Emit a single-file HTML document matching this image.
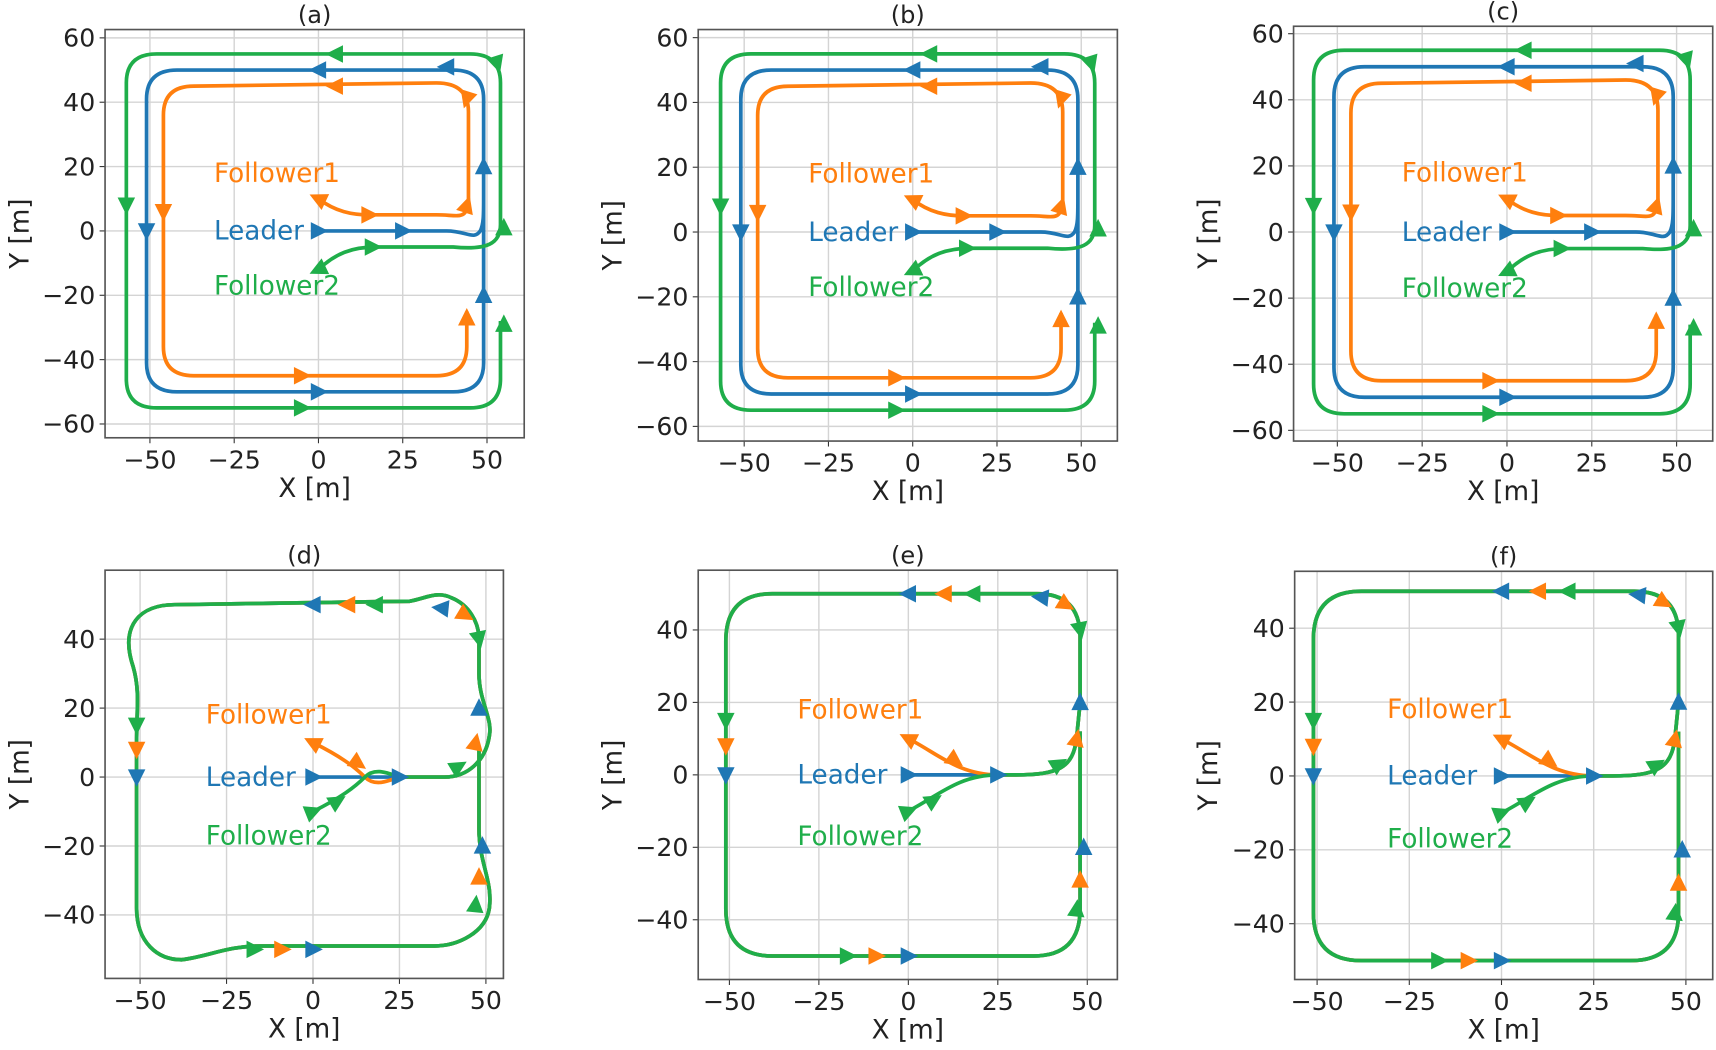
<!DOCTYPE html>
<html><head><meta charset="utf-8"><style>
html,body{margin:0;padding:0;background:#fff;}
svg{display:block;font-family:"DejaVu Sans","Liberation Sans",sans-serif;}
</style></head><body>
<svg id="s" width="1716" height="1050" viewBox="0 0 1568 959.4" preserveAspectRatio="none" xmlns="http://www.w3.org/2000/svg"></svg>
<script>
const B='#1f77b4',O='#ff7f0e',G='#1fae4a';
const top3={
 L:'M0,0 L38,0 C44,0 46,-3 48,0 C49,2 49,5 49,10 L49,41 Q49,50 40,50 L-42,50 Q-51,50 -51,41 L-51,-41 Q-51,-50 -42,-50 L40,-50 Q49,-50 49,-41 L49,18',
 F1:'M0,10 C5,6 10,5 15,5 L35,5 C42,5 44,3 44.5,10 L44.5,37 Q44.5,46 35,46 L-37,45 Q-46,45 -46,36 L-46,-36 Q-46,-45 -37,-45 L35,-45 Q44,-45 44,-36 L44,-25',
 F2:'M0,-12 C5,-7 10,-5 17,-5 L40,-5 C50,-6 54,-4 54,2 L54,46 Q54,55 45,55 L-48,55 Q-57,55 -57,46 L-57,-46 Q-57,-55 -48,-55 L45,-55 Q54,-55 54,-46 L54,-28'};
const topM=[[G,-57,8,0,-1],[B,-51,0,0,-1],[O,-46,6,0,-1],[G,5,55,-1,0],[B,0,50,-1,0],[O,5,45,-1,0],[B,38,51,-1,0],[G,53,52,0.3,-1],[O,44,41,-0.3,-1],
 [O,-5,-45,1,0],[B,0,-50,1,0],[G,-5,-55,1,0],[B,49,20,0,1],[B,49,-20,0,1],[O,44,-27,0,1],[O,44,8,0.3,1],[G,55,1,0,1],[G,55,-29,0,1],
 [O,0,10,-1,0.5],[O,15,5,1,0],[B,0,0,1,0],[B,25,0,1,0],[G,0,-12,-1,-0.5],[G,16,-5,1,0]];
const sq='L48,20 L48,38 Q48,50 36,50 L-38,50 Q-51,50 -51,37 L-51,-37 Q-51,-50 -38,-50 L35,-50 Q48,-50 48,-37 L48,12';
const bot={L:'M0,0 L30,0 C42,0 46,2 47,10 '+sq,F1:'M0,10 C8,6 14,0 25,0 L30,0 C42,0 46,2 47,10 '+sq,F2:'M0,-10 C8,-6 14,0 25,0 L30,0 C42,0 46,2 47,10 '+sq};
const d='L38,0 C45,0 50,5 51,12 C52,17 48,22 48,30 L48,40 C48,45 45,50 40,52 C36,54 33,52 28,51 L-40,50 C-50,50 -56,44 -52,32 C-50,25 -51,20 -51,10 L-51,-38 C-51,-48 -45,-53 -38,-53 C-30,-52 -25,-49 -15,-49 L35,-49 C42,-49 50,-45 51,-38 C52,-30 48,-25 48,-15 L48,8';
const botD={L:'M0,0 L25,0 C28,0 32,0 '+d.slice(1),F1:'M0,10 C8,6 12,3 15,0 C18,-3 22,-1 25,0 C28,0 32,0 '+d.slice(1),F2:'M0,-10 C8,-6 12,-3 15,0 C18,3 22,1 25,0 C28,0 32,0 '+d.slice(1)};
const botM=[[G,-51,15,0,-1],[O,-51,8,0,-1],[B,-51,0,0,-1],[B,0,50,-1,0],[O,10,50,-1,0],[G,18,50,-1,0],[B,37,49,-1,0.1],[O,44,47,1,-0.6],[G,48,40,0.2,-1],
 [B,48,20,0,1],[O,47,10,0.2,1],[G,42,3,1,0.6],[B,49,-20,0,1],[O,48,-29,0,1],[G,47,-37,0.1,1],[G,-17,-50,1,0],[O,-9,-50,1,0],[B,0,-50,1,0],
 [O,0,10,-1,0.5],[O,13,4,1,-0.7],[B,0,0,1,0],[B,25,0,1,0],[G,0,-10,1,0.4],[G,7,-7,1,0.6]];
const P=[
 {t:'(a)',b:[96,27,479,400],x0:291,sx:3.08,y0:211,sy:2.94,yt:[-60,-40,-20,0,20,40,60],p:top3,m:topM,yl:14},
 {t:'(b)',b:[638,27,1021,403],x0:834,sx:3.08,y0:212,sy:2.96,yt:[-60,-40,-20,0,20,40,60],p:top3,m:topM,yl:556},
 {t:'(c)',b:[1182,24,1565,403],x0:1377,sx:3.1,y0:212,sy:3.02,yt:[-60,-40,-20,0,20,40,60],p:top3,m:topM,yl:1100},
 {t:'(d)',b:[96,521,460,894],x0:286,sx:3.16,y0:710,sy:3.15,yt:[-40,-20,0,20,40],p:botD,m:botM,yl:14},
 {t:'(e)',b:[638,521,1021,895],x0:830,sx:3.27,y0:708,sy:3.31,yt:[-40,-20,0,20,40],p:bot,m:botM,yl:556},
 {t:'(f)',b:[1183,522,1565,895],x0:1372,sx:3.37,y0:709,sy:3.375,yt:[-40,-20,0,20,40],p:bot,m:botM,yl:1100}];
let h='';
const fm=v=>(v<0?'\u2212'+(-v):''+v);
for(const q of P){
 const [x1,y1,x2,y2]=q.b, X=v=>q.x0+v*q.sx, Y=v=>q.y0-v*q.sy;
 h+=`<g><clipPath id="c${q.t[1]}"><rect x="${x1}" y="${y1}" width="${x2-x1}" height="${y2-y1}"/></clipPath>`;
 for(const v of [-50,-25,0,25,50]){const x=X(v);h+=`<line x1="${x}" y1="${y1}" x2="${x}" y2="${y2}" stroke="#d4d4d4" stroke-width="1.3"/><line x1="${x}" y1="${y2}" x2="${x}" y2="${y2+5}" stroke="#333"/><text x="${x}" y="${y2+28}" font-size="23" text-anchor="middle" fill="#222">${fm(v)}</text>`;}
 for(const v of q.yt){const y=Y(v);h+=`<line x1="${x1}" y1="${y}" x2="${x2}" y2="${y}" stroke="#d4d4d4" stroke-width="1.3"/><line x1="${x1-5}" y1="${y}" x2="${x1}" y2="${y}" stroke="#333"/><text x="${x1-9}" y="${y+8}" font-size="23" text-anchor="end" fill="#222">${fm(v)}</text>`;}
 h+=`<rect x="${x1}" y="${y1}" width="${x2-x1}" height="${y2-y1}" fill="none" stroke="#555" stroke-width="1.5"/>`;
 h+=`<text x="${(x1+x2)/2}" y="${y1-6}" font-size="22" text-anchor="middle" fill="#222">${q.t}</text>`;
 h+=`<text x="${(x1+x2)/2}" y="${y2+54}" font-size="24" text-anchor="middle" fill="#222">X [m]</text>`;
 h+=`<text transform="translate(${q.yl+12},${(y1+y2)/2}) rotate(-90)" font-size="24" text-anchor="middle" fill="#222">Y [m]</text>`;
 h+=`<g clip-path="url(#c${q.t[1]})"><g transform="matrix(${q.sx},0,0,${-q.sy},${q.x0},${q.y0})" fill="none" stroke-width="3.7" stroke-linejoin="round">`;
 h+=`<path d="${q.p.L}" stroke="${B}" vector-effect="non-scaling-stroke"/><path d="${q.p.F1}" stroke="${O}" vector-effect="non-scaling-stroke"/><path d="${q.p.F2}" stroke="${G}" vector-effect="non-scaling-stroke"/></g>`;
 for(const [c,mx,my,dx,dy] of q.m){const a=Math.atan2(-dy*q.sy,dx*q.sx)*180/Math.PI;h+=`<polygon points="9,0 -7,-8 -7,8" fill="${c}" transform="translate(${X(mx)},${Y(my)}) rotate(${a})"/>`;}
 h+=`</g>`;
 const tx=X(-31);
 h+=`<text x="${tx}" y="${Y(18)+8}" font-size="24" fill="${O}">Follower1</text><text x="${tx}" y="${Y(0)+8}" font-size="24" fill="${B}">Leader</text><text x="${tx}" y="${Y(-17)+8}" font-size="24" fill="${G}">Follower2</text></g>`;
}
document.getElementById('s').innerHTML=h;
</script>
</body></html>
